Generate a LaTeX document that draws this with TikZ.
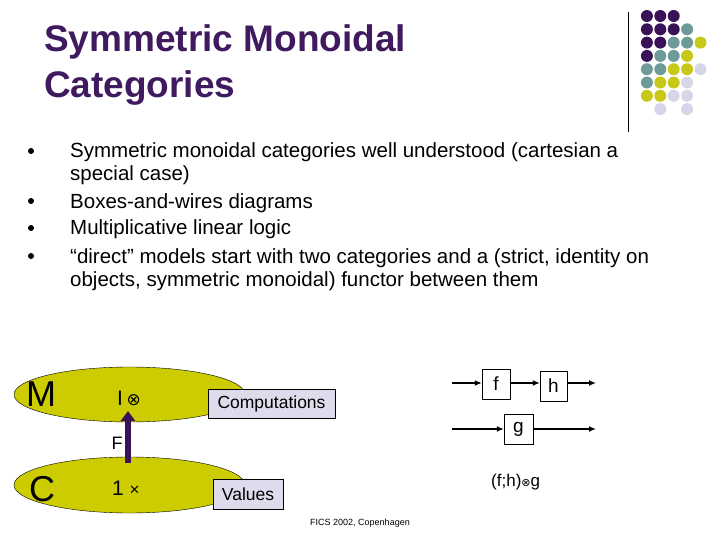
\documentclass[tikz,border=0pt]{standalone}
\usepackage{fontspec}
\setmainfont{Liberation Sans}
\newfontfamily\dejavu{DejaVu Sans}
\usetikzlibrary{arrows.meta,shapes.geometric}
\definecolor{tpurple}{HTML}{3F1A5E}
\definecolor{P}{HTML}{3A1258}
\definecolor{T}{HTML}{6E9A9A}
\definecolor{Y}{HTML}{C8C81A}
\definecolor{L}{HTML}{D6D6E8}
\definecolor{ellyel}{HTML}{CCCC00}
\definecolor{boxfill}{HTML}{DCDCEC}
\tikzset{
 txt/.style={anchor=base west,inner sep=0pt,font=\fontsize{20.5}{20.5}\selectfont},
 bul/.style={circle,fill=black,inner sep=0pt,minimum size=6pt},
 lab/.style={draw=black,fill=boxfill,inner sep=0pt,font=\fontsize{17.5}{17.5}\selectfont},
 ell/.style={ellipse,draw=black,fill=ellyel},
 wbox/.style={draw=black,fill=white,inner sep=0pt,font=\fontsize{19}{19}\selectfont},
 wire/.style={line width=1.3pt,-{Latex[length=7pt,width=6pt]}},
 dot/.style={circle,inner sep=0pt,minimum size=12pt},
}
\begin{document}
\begin{tikzpicture}[x=1pt,y=-1pt]
\useasboundingbox (0,0) rectangle (720,540);
% title
\node[anchor=base west,inner sep=0pt,text=tpurple,font=\bfseries\fontsize{37}{37}\selectfont] (t1) at (44,52) {Symmetric Monoidal};
\node[anchor=base west,inner sep=0pt,text=tpurple,font=\bfseries\fontsize{37}{37}\selectfont] (t2) at (44,98) {Categories};
% vertical line
\draw[black] (628,12) -- (628,132);
% dots
\foreach \r/\lst in {0/{1/P,2/P,3/P},1/{1/P,2/P,3/P,4/T},2/{1/P,2/P,3/T,4/T,5/Y},3/{1/P,2/T,3/T,4/Y},4/{1/T,2/T,3/Y,4/Y,5/L},5/{1/T,2/Y,3/Y,4/L},6/{1/Y,2/Y,3/L,4/L},7/{2/L,4/L}}{
 \foreach \c/\k in \lst {
  \node[dot,fill=\k] (d\r\c) at ({633.5+13.4*\c},{16+13.3*\r}) {};
 }}
% bullets
\node[bul] (b1) at (31,151) {};
\node[bul] (b2) at (31,201) {};
\node[bul] (b3) at (31,228) {};
\node[bul] (b4) at (31,256) {};
\node[txt] (l1) at (70,158) {Symmetric monoidal categories well understood (cartesian a};
\node[txt] (l1b) at (70,181) {special case)};
\node[txt] (l2) at (70,208) {Boxes-and-wires diagrams};
\node[txt] (l3) at (70,235) {Multiplicative linear logic};
\node[txt] (l4) at (70,263) {“direct” models start with two categories and a (strict, identity on};
\node[txt] (l4b) at (70,286) {objects, symmetric monoidal) functor between them};
% ellipses
\node[ell,minimum width=231pt,minimum height=55pt] (M) at (129.5,394.5) {};
\node[ell,minimum width=231pt,minimum height=56pt] (C) at (129.5,485) {};
\node[anchor=base,inner sep=0pt,font=\fontsize{36}{36}\selectfont] (Mt) at (41,406) {M};
\node[anchor=base,inner sep=0pt,font=\fontsize{36}{36}\selectfont] (Ct) at (42,501) {C};
\node[anchor=base west,inner sep=0pt,font=\fontsize{21}{21}\selectfont] (It) at (117,405) {I\,{\dejavu\fontsize{17}{17}\selectfont ⊗}};
\node[anchor=base west,inner sep=0pt,font=\fontsize{21}{21}\selectfont] (one) at (112,495) {1 {\fontsize{17}{17}\selectfont ×}};
\node[lab,minimum width=127pt,minimum height=29pt] (comp) at (271.5,403.5) {Computations};
\node[lab,minimum width=70pt,minimum height=30pt] (val) at (248,494) {Values};
% functor arrow
\coordinate (fa) at (128,463);
\coordinate (fb) at (128,411);
\draw[P,line width=6pt,-{Triangle[length=10pt,width=14pt]}] (fa) -- (fb);
\node[anchor=base,inner sep=0pt,font=\fontsize{18}{18}\selectfont] (F) at (117,449) {F};
% boxes and wires
\node[wbox,minimum width=28pt,minimum height=30pt] (f) at (496,384) {f};
\node[wbox,minimum width=27pt,minimum height=30pt] (h) at (553.5,386) {h};
\node[wbox,minimum width=29pt,minimum height=30pt] (g) at (518.5,429) {g};
\coordinate (a1) at (452,383); \coordinate (a2) at (596,383);
\coordinate (c1) at (452,429); \coordinate (c2) at (596,429);
\draw[wire] (a1) -- (f.west|-a1);
\draw[wire] (f.east|-a1) -- (h.west|-a1);
\draw[wire] (h.east|-a1) -- (a2);
\draw[wire] (c1) -- (g.west);
\draw[wire] (g.east) -- (c2);
\node[anchor=base west,inner sep=0pt,font=\fontsize{17}{17}\selectfont] (exp) at (491,486) {(f;h){\dejavu\fontsize{11}{11}\selectfont ⊗}g};
\node[anchor=base,inner sep=0pt,font=\fontsize{9}{9}\selectfont] (fics) at (360,525) {FICS 2002, Copenhagen};
\end{tikzpicture}
\end{document}
